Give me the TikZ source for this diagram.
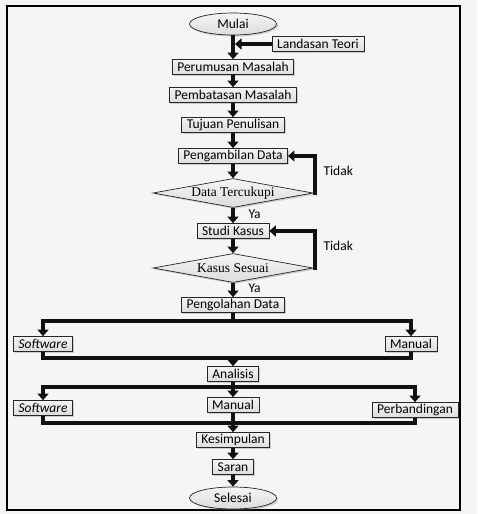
\documentclass[tikz,border=0pt]{standalone}
\usepackage{fontspec}
\setmainfont{Carlito}
\newfontfamily\diafont{Liberation Serif}
\usetikzlibrary{arrows.meta, shapes.geometric, shadows}
\definecolor{pagebg}{HTML}{F6F5F3}
\definecolor{boxtop}{HTML}{F4F4F4}
\definecolor{boxgray}{HTML}{DDDDDD}
\definecolor{inkblack}{HTML}{111111}

\begin{document}
\begin{tikzpicture}[x=1pt, y=-1pt, >={Triangle[length=6.5pt, width=11pt]},
  flow/.style={inkblack, line width=4pt, ->},
  bar/.style={inkblack, line width=4pt},
  box/.style={draw=black!85, line width=0.7pt, top color=boxtop, bottom color=boxgray,
    inner xsep=5pt, inner ysep=0pt, minimum height=15pt,
    font=\fontsize{13.5}{15}\selectfont,
    drop shadow={shadow xshift=1.5pt, shadow yshift=-1.5pt, opacity=0.35}},
  terminal/.style={box, ellipse, inner sep=0pt, minimum width=87pt, minimum height=22pt},
  decision/.style={box, diamond, aspect=5.5, inner sep=0pt, minimum width=160pt,
    minimum height=29pt, font=\diafont\fontsize{13.5}{15}\selectfont},
  lbl/.style={font=\fontsize{13.5}{15}\selectfont}]

% Background
\useasboundingbox (0,0) rectangle (477,514);
\fill[pagebg] (0,0) rectangle (477,514);
\draw[black, line width=1.2pt] (7,6) rectangle (460,510);

% --- Main column ---
\node[terminal] (mulai) at (233,24) {Mulai};
\node[box] (landasan) at (318,44) {Landasan Teori};
\node[box] (perumusan) at (233,67) {Perumusan Masalah};
\node[box] (pembatasan) at (233,95) {Pembatasan Masalah};
\node[box] (tujuan) at (233,125) {Tujuan Penulisan};
\node[box] (pengambilan) at (233,156) {Pengambilan Data};
\node[decision] (tercukupi) at (233,193) {Data Tercukupi};
\node[box] (studi) at (233,231) {Studi Kasus};
\node[decision] (sesuai) at (233,268) {Kasus Sesuai};
\node[box] (pengolahan) at (233,305) {Pengolahan Data};

% --- First branch ---
\node[box, font=\fontsize{13.5}{15}\selectfont\itshape] (software1) at (43,344) {Software};
\node[box] (manual1) at (411,344) {Manual};
\node[box] (analisis) at (233,374) {Analisis};

% --- Second branch ---
\node[box, font=\fontsize{13.5}{15}\selectfont\itshape] (software2) at (43,408) {Software};
\node[box] (manual2) at (233,405) {Manual};
\node[box] (perbandingan) at (415,410) {Perbandingan};
\node[box] (kesimpulan) at (233,440) {Kesimpulan};
\node[box] (saran) at (233,467) {Saran};
\node[terminal] (selesai) at (233,498) {Selesai};

% Junction points
\coordinate (split1) at (233,321);
\coordinate (merge1) at (233,358);
\coordinate (split2) at (233,387);
\coordinate (merge2) at (233,423);

% Arrows
\draw[flow] (mulai) -- (perumusan);
\draw[flow, shorten >=2pt] (landasan.west) -- (landasan.west -| mulai.south);
\draw[flow] (perumusan) -- (pembatasan);
\draw[flow] (pembatasan) -- (tujuan);
\draw[flow] (tujuan) -- (pengambilan);
\draw[flow] (pengambilan) -- (tercukupi);
\draw[flow] (tercukupi) -- (studi);
\draw[flow] (studi) -- (sesuai);
\draw[flow] (sesuai) -- (pengolahan);

% Loops back
\draw[flow] (tercukupi.east) -- ++(2,0) |- (pengambilan.east);
\draw[flow] (sesuai.east) -- ++(2,0) |- (studi.east);
\node[lbl, right] at (320,171) {Tidak};
\node[lbl, right] at (320,246) {Tidak};
\node[lbl, right] at (245,214) {Ya};
\node[lbl, right] at (245,288) {Ya};

% Split and merge 1
\draw[bar] (pengolahan) -- (split1);
\draw[flow] (split1) -| (software1.north);
\draw[flow] (split1) -| (manual1.north);
\draw[bar] (software1.south) |- (merge1);
\draw[bar] (manual1.south) |- (merge1);
\draw[flow] (merge1) -- (analisis.north);

% Split and merge 2
\draw[bar] (analisis) -- (split2);
\draw[flow] (split2) -| (software2.north);
\draw[flow] (split2) -- (manual2.north);
\draw[flow] (split2) -| (perbandingan.north);
\draw[bar] (software2.south) |- (merge2);
\draw[bar] (perbandingan.south) |- (merge2);
\draw[bar] (manual2.south) -- (merge2);
\draw[flow] (merge2) -- (kesimpulan.north);
\draw[flow] (kesimpulan) -- (saran);
\draw[flow] (saran) -- (selesai);

\end{tikzpicture}
\end{document}
